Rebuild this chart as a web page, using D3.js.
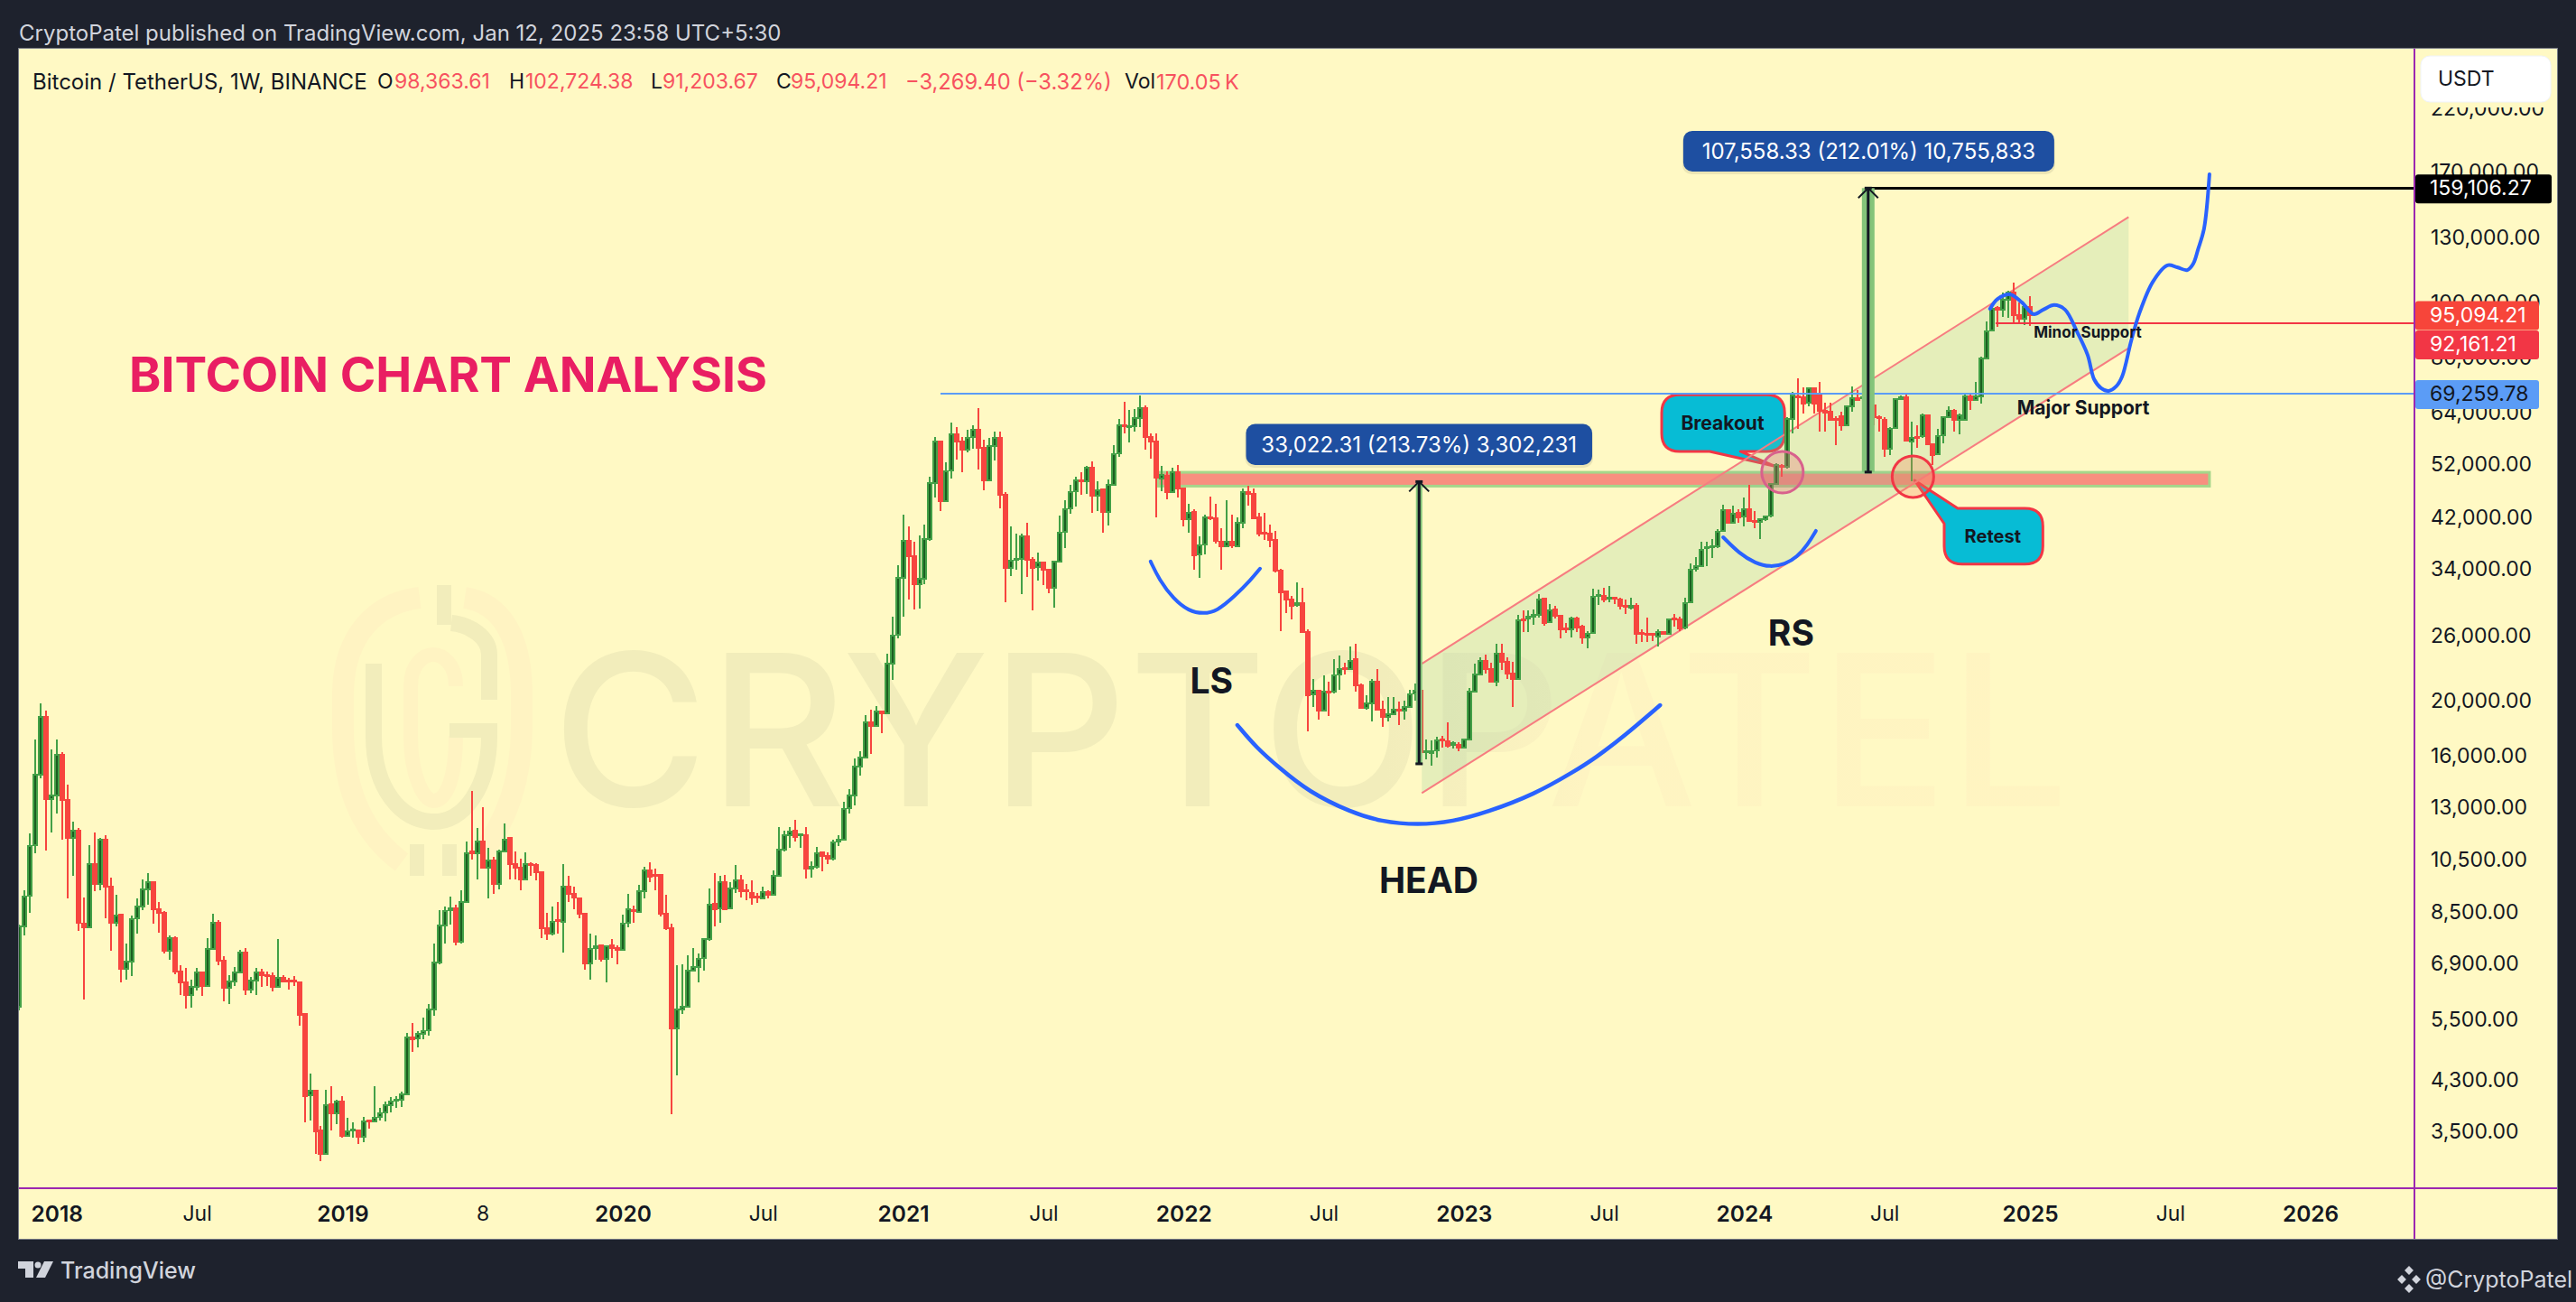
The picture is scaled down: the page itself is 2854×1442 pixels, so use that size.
<!DOCTYPE html>
<html>
<head>
<meta charset="utf-8">
<title>Bitcoin chart analysis</title>
<script src="https://cdn.jsdelivr.net/npm/d3@7"></script>
<style>
  html, body { margin: 0; padding: 0; background: #1e222d; }
  svg { display: block; }
  text { font-family: Inter, "Noto Sans", sans-serif; }
  .domain { display: none; }
</style>
</head>
<body>
<svg id="chart" width="2854" height="1442"></svg>
<script>
// weekly candles, index 7 is the first week of 2018, index 373 is Jan 6 2025
const opens = [
  5790,8000,9060,11120,14820,18700,13400,13620,16060,13350,
  11460,11800,8100,7990,10300,9510,11400,9430,8130,8400,
  6740,6950,8290,8700,9320,9570,8600,8460,7270,7640,
  6680,6380,6080,6280,6640,6290,7320,8130,6970,6240,
  6420,6640,7220,6200,6440,6640,6590,6550,6280,6510,
  6440,6440,6380,5620,4040,4120,3510,3190,3900,3760,
  3950,3435,3505,3510,3425,3650,3640,3700,3770,3890,
  3965,3980,4060,5120,5090,5190,5260,5730,6930,8050,
  8570,8630,7540,8850,10840,10790,11300,10170,10460,9530,
  10870,11460,10300,10150,9700,10300,10280,9990,7970,7770,
  8210,8160,9420,9130,8990,8450,6900,7330,7410,7020,
  7410,7330,7300,8130,8560,8500,9230,10070,9880,9860,
  8430,7960,5300,5720,5790,6710,6810,7060,7610,8780,
  8620,9600,8620,9350,9660,9260,9170,9030,8990,9210,
  9100,9850,10930,11600,11800,11610,11600,10120,10200,10810,
  10650,10530,11280,11370,12930,13620,15290,15860,18300,18010,
  19120,18980,23250,26050,32870,38200,35800,32000,32700,38500,
  48200,57100,44800,50700,58800,57000,55200,58000,59800,55700,
  48800,56100,57800,46000,34200,35400,35500,38800,35300,34300,
  35000,33900,31500,35100,39600,43500,46600,48800,48600,51400,
  45800,47000,42900,47900,54300,61000,60600,60800,62800,65200,
  58200,57000,49100,49700,46500,50400,47100,41700,42900,36100,
  37600,42000,41800,38000,37400,38000,37400,41000,46500,46200,
  41900,39400,39300,38300,33800,31100,30100,29400,29700,26400,
  20500,20800,19200,20750,20700,22200,22800,22700,23600,21300,
  19400,19800,21600,19300,18700,18950,19300,19200,19500,20600,
  20800,16200,16150,16350,17050,16950,16700,16700,16550,17050,
  20750,22250,23500,22700,21600,24200,23400,22300,21800,27800,
  27900,28100,28300,30150,27450,28900,28200,26750,26700,27850,
  26950,25850,26250,30500,30500,30300,30350,30050,29350,29150,
  29350,26250,26200,26150,25900,26400,26200,27900,27800,26900,
  29800,34100,34500,37000,37300,37350,39700,43200,41100,42700,
  42100,43400,41400,41250,41600,42200,48000,51700,51500,62500,
  68500,68300,66700,70700,68800,64600,64400,62500,63300,61000,
  65900,68100,67900,69300,66000,63000,62300,55400,60200,67800,
  68200,57100,58200,58400,63400,56500,54200,58500,63000,64700,
  62300,62300,68600,67600,68400,79700,89300,97900,97200,101100,
  104400,95200,93700,98363.61
];
const highs = [
  8080,9270,11690,17100,19780,19200,16400,17100,16250,14250,
  12230,11930,9000,11130,11700,11470,11600,9780,9100,8420,
  7480,8360,8970,9700,9950,9630,8830,8540,7730,7700,
  6860,6780,6460,6770,6650,7650,8420,8220,7110,6580,
  6810,7290,7330,6530,6770,6740,6670,6640,7620,6580,
  6510,6550,6420,5620,4420,4130,3570,4130,4190,3980,
  4030,3690,3620,3510,3700,3667,4190,3850,3945,4020,
  4030,4100,5210,5420,5250,5540,5850,7480,8570,8700,
  9040,8740,9270,11300,13880,11950,13000,11000,10610,10950,
  12170,11520,10860,10540,10820,10400,10350,10000,8460,8680,
  8850,10300,9830,9400,9010,8470,7780,7720,7440,7430,
  7620,7420,8400,9130,8710,9490,10200,10400,10140,9900,
  9100,8090,6850,6870,7120,7350,7180,7640,9330,9960,
  9850,9860,9600,10280,9880,9500,9670,9170,9400,9260,
  10060,12000,11800,11990,12350,11690,11990,10440,11040,10870,
  10810,11370,11600,13270,13980,15790,16300,18850,19300,19550,
  19200,24200,28100,34600,42500,40500,38000,39000,40700,49400,
  58200,57300,52400,61700,60500,58200,59800,61000,65400,57400,
  57900,59300,59300,46500,40500,39300,39300,41000,35700,36400,
  35100,34000,35200,42300,45000,47800,49400,50400,51700,52700,
  48500,47200,49000,56200,62600,67000,64800,65100,68800,66000,
  59000,58900,51700,50500,51400,51900,47400,44300,43400,38800,
  42500,45700,44400,40100,45000,42400,42000,47100,47700,47100,
  42700,42700,40700,39700,34100,31100,30500,32200,31500,26700,
  21800,20900,22100,21600,23600,24000,23300,24900,25200,21400,
  20400,21800,22700,20000,20300,20300,19900,20000,20900,21400,
  20900,17100,17000,17250,17350,18300,16950,16900,17150,21000,
  23250,23800,24100,23300,25200,25200,23800,23400,28300,28800,
  28800,28900,30800,30300,29500,29300,28300,27400,28100,28100,
  27200,26450,31400,31300,31600,31800,30350,30350,30050,30300,
  29700,26700,28000,26300,26700,26400,27900,28400,28050,30300,
  34800,35700,38000,38000,38400,40000,44100,43300,44000,43400,
  45400,47900,43000,41800,42300,48000,52200,52100,63000,69800,
  73800,71000,71000,70900,72700,66800,66800,63300,64400,66000,
  71400,70200,71700,73000,66200,63500,62900,60400,68100,68700,
  69600,61900,60900,63800,63600,56600,60000,63300,65800,65000,
  63800,69000,69000,72500,80400,92800,99600,98700,104088,105000,
  108353,99963,99000,102724.38
];
const lows = [
  5700,7740,8480,10760,14600,10900,11700,12670,11370,8990,
  9850,7880,5970,7990,9250,9270,8280,7270,8020,6400,
  6460,6550,7770,8570,8740,8110,7820,7170,7000,6595,
  6080,5755,5770,6180,6040,6290,7320,6850,5920,5860,
  6300,6640,6080,6110,6080,6280,6300,6160,6260,6400,
  6210,6300,5370,3630,3650,3190,3100,3190,3510,3600,
  3410,3425,3410,3320,3350,3540,3630,3650,3640,3770,
  3850,3860,4050,4830,4920,5080,5150,5580,6880,7480,
  8080,7430,7480,8850,10510,9680,10170,8990,9130,9320,
  10840,9700,9700,9260,9690,9820,9660,7650,7590,7720,
  7770,7220,8850,8600,8290,6730,6460,7000,6950,6400,
  7040,6880,7270,7980,8130,8470,8990,9580,9260,8330,
  7900,3750,4390,5630,5790,6670,6400,6700,7560,8020,
  8120,8600,8580,9190,9010,8910,8760,8800,8980,8960,
  9070,9850,10850,11000,11290,11030,9740,9750,10120,10010,
  10300,10460,11080,11330,12650,13070,14750,15860,16100,17950,
  17500,18890,21700,25760,28100,30100,28900,29000,32000,38100,
  45400,43100,44800,49100,53000,50300,54600,55500,50900,46800,
  48800,52800,43500,29800,33100,33900,30800,33000,28800,32500,
  31900,30900,29100,35100,37100,42600,43800,46000,46100,42700,
  43100,39400,40600,47900,53600,59000,56800,59300,60500,55200,
  53200,41900,46600,45100,46400,45400,40400,39500,33900,32800,
  36100,41500,37700,34000,37300,37100,37300,40100,44000,41700,
  38900,38300,37200,33600,26500,28500,27800,29200,26300,17650,
  19500,18500,19100,18800,20600,20900,22200,22700,20700,19400,
  19300,18400,19200,18000,18400,18900,18100,18500,19400,20000,
  15450,15750,15350,15900,16500,16500,16450,16300,16550,17000,
  20700,22100,22300,21500,21200,22600,21800,19500,21700,26400,
  26400,27200,28000,27100,27400,27900,25700,26300,25800,26400,
  25200,24700,26150,29450,29750,29800,29500,28900,28400,28900,
  25200,25300,25350,25400,24900,26150,26100,27000,26500,26700,
  29700,33700,34500,34500,35600,37000,39600,41000,41000,41000,
  40500,41200,40100,38500,41400,42000,47800,49500,51200,59000,
  60000,63900,65900,63900,59400,59400,62000,56200,59700,60700,
  64400,67200,66500,64400,61000,59400,53700,54000,60100,67400,
  57000,48600,55700,57800,56300,51900,54000,56700,62700,59400,
  58700,62200,64800,67400,66500,79500,89000,90800,94500,94150,
  92175,92500,91500,91203.67
];
const closes = [
  8000,9040,11080,14820,18700,13400,13600,16020,13350,11460,
  11800,8130,7990,10300,9510,11400,9430,8130,8380,6740,
  6950,8260,8700,9320,9570,8600,8460,7270,7640,6680,
  6380,6080,6280,6640,6290,7320,8130,6970,6240,6420,
  6640,7220,6200,6440,6640,6580,6550,6280,6510,6420,
  6420,6420,5610,4030,4115,3500,3190,3890,3760,3950,
  3435,3490,3520,3425,3640,3640,3690,3760,3880,3940,
  3980,4060,5110,5080,5180,5250,5720,6920,8050,8540,
  8620,7540,8850,10790,10780,11300,10170,10460,9530,10840,
  11400,10300,10150,9700,10300,10280,9990,7970,7770,8160,
  8190,9400,9130,9000,8450,6900,7320,7400,7020,7400,
  7330,7300,8100,8590,8540,9230,10070,9800,9850,8430,
  7950,5300,5720,5790,6700,6810,7020,7610,8760,8600,
  9580,8600,9340,9660,9250,9250,9000,9010,9210,9100,
  9850,10930,11580,11770,11520,11620,10120,10200,10790,10650,
  10530,11240,11370,12900,13620,15290,15860,18300,18030,19160,
  19000,23200,26000,32800,38100,35800,32000,32700,38500,48200,
  57000,44800,50600,58800,57000,55200,57800,59800,55700,48800,
  56000,57800,46000,34200,35200,35500,38800,35300,34200,34900,
  34000,31500,35100,39500,43400,46500,48800,48700,51400,45800,
  46900,42900,47800,54200,60900,60600,60700,62800,65200,58200,
  57000,49200,49800,46500,50300,47100,41700,42800,36000,37500,
  42000,41800,38100,37400,38000,37500,41000,46500,46200,41800,
  39300,39300,38300,33800,31000,30100,29300,29700,26400,20400,
  20800,19200,20700,20700,22100,22700,22700,23500,21300,19400,
  19800,21600,19300,18700,18900,19300,19200,19500,20500,20800,
  16200,16300,16300,17000,17000,16650,16800,16500,17050,20700,
  22200,23500,22700,21600,24200,23400,22300,21800,27700,27750,
  28050,28300,30100,27400,28800,28200,26700,26700,27900,26900,
  25800,26200,30400,30600,30100,30310,30300,29300,29200,29300,
  26200,26200,26150,26100,26400,26200,27800,27850,26800,29700,
  34000,34400,36800,37200,37350,39600,43200,41100,42600,42000,
  43300,41300,41250,41600,42100,48000,51800,51500,62500,68700,
  68200,66500,70700,66600,64600,64200,62300,62300,61000,65800,
  68100,67600,68200,66000,63000,62800,55400,60100,67700,68300,
  57300,57800,58100,63400,56500,54000,58400,62900,64700,62300,
  63400,68600,67500,68400,79700,89200,97500,97200,101100,104400,
  95200,93700,98360,95094.21
];

const priceTicks = [220000, 170000, 130000, 100000, 80000, 64000, 52000, 42000, 34000,
  26000, 20000, 16000, 13000, 10500, 8500, 6900, 5500, 4300, 3500];
const timeTickBars = [7, 33, 60, 86, 112, 138, 164, 190, 216, 242, 268, 294, 320, 346, 373, 399, 425];
const timeTickLabels = ['2018', 'Jul', '2019', '8', '2020', 'Jul', '2021', 'Jul', '2022', 'Jul',
  '2023', 'Jul', '2024', 'Jul', '2025', 'Jul', '2026'];

// drawings, all [bar index, price]
const lsCurve = [[209.9,35100],[211.5,32600],[214.1,30200],[217,28700],[219.7,28400],[222.2,28700],[225.5,30500],[228.5,32600],[230.2,34100]];
const headCurve = [[226,18100],[229.5,16530],[233.7,15250],[239.2,13820],[247.1,12710],[252.6,12250],[259.5,12070],[266,12250],[272.2,12710],[281.1,13670],[288.6,15030],[292.3,15820],[297.8,17330],[304.4,19620]];
const rsCurve = [[316.1,38720],[319.1,36250],[322.1,34840],[324.8,34310],[327.6,34720],[329.8,35730],[331.8,37600],[333.3,39730]];
const projection = [[365.6,97600],[367,101600],[369.3,103500],[371.5,100200],[373.7,95500],[375.5,97300],[377.5,99100],[379.5,97300],[381.7,89100],[383.7,81000],[384.9,73400],[386.2,70800],[387.6,70000],[389,71300],[390.1,74200],[391.8,85900],[393.3,95900],[395.8,108900],[398.5,116400],[400.3,115500],[402.2,114200],[403.3,117200],[404.2,124300],[405.3,135100],[406.3,168300]];
const channel = [[260.2,23200],[391.3,141500],[391.3,83200],[260.2,13750]];
const supportZone = { bars: [211.3, 406.3], prices: [50360, 47620] };
const measures = [
  { bar: 259.7, from: 15476, to: 48498, band: 7, label: '33,022.31 (213.73%) 3,302,231', box: [[227.6, 61230], [291.8, 51880]] },
  { bar: 343, from: 50400, to: 159106.27, band: 14, label: '107,558.33 (212.01%) 10,755,833', box: [[308.7, 200600], [377.5, 170100]] }
];
const levels = [
  { price: 159106.27, start: 343, color: '#000000', width: 3, text: '#ffffff', tag: '#000000', right: 2827 },
  { price: 95094.21, start: null, color: null, width: 0, text: '#ffffff', tag: '#f7453a', right: 2813 },
  { price: 92161.21, start: 366.6, color: '#f23645', width: 2, text: '#ffffff', tag: '#f23645', right: 2813 },
  { price: 69259.78, start: 171, color: '#5b9cf6', width: 2, text: '#131722', tag: '#5b9cf6', right: 2813 }
];
const legendParts = [
  ['Bitcoin / TetherUS, 1W, BINANCE', 36, '#131722', 24], ['O', 418, '#131722', 23], ['98,363.61', 437, '#f7525f', 23],
  ['H', 564, '#131722', 23], ['102,724.38', 582, '#f7525f', 23], ['L', 721, '#131722', 23], ['91,203.67', 734, '#f7525f', 23],
  ['C', 860, '#131722', 23], ['95,094.21', 876, '#f7525f', 23], ['\u22123,269.40 (\u22123.32%)', 1003, '#f7525f', 23.7],
  ['Vol', 1246, '#131722', 23], ['170.05\u2009K', 1281, '#f7525f', 23.4]
];

const plot = { left: 21, right: 2833, top: 54, bottom: 1372, axisX: 2675, axisY: 1316 };
const GREEN = '#43a047', GREEN_DARK = '#1b5e20', RED = '#f7453f', CURVE = '#2962ff';

const svg = d3.select('#chart');
const x = d3.scaleLinear().domain([0, 373]).range([21, 2249]);
const y = d3.scaleLog().domain([3500, 170000]).range([1252.7, 190.2]);
const pt = ([b, p]) => [x(b), y(p)];

svg.append('rect').attr('x', plot.left - 1).attr('y', plot.top - 1)
  .attr('width', plot.right - plot.left + 2).attr('height', plot.bottom - plot.top + 2)
  .attr('fill', '#787b86');
svg.append('rect').attr('x', plot.left).attr('y', plot.top)
  .attr('width', plot.right - plot.left).attr('height', plot.bottom - plot.top)
  .attr('fill', '#fff9c4');

const defs = svg.append('defs');
defs.append('clipPath').attr('id', 'pane').append('rect')
  .attr('x', plot.left).attr('y', plot.top)
  .attr('width', plot.axisX - plot.left).attr('height', plot.axisY - plot.top);
const wmGrad = defs.append('linearGradient').attr('id', 'wm')
  .attr('gradientUnits', 'userSpaceOnUse').attr('x1', 600).attr('x2', 2300).attr('y1', 0).attr('y2', 0);
wmGrad.append('stop').attr('offset', 0).attr('stop-color', '#f2edbb');
wmGrad.append('stop').attr('offset', 0.55).attr('stop-color', '#f2edbb');
wmGrad.append('stop').attr('offset', 0.68).attr('stop-color', '#fef4c2');
wmGrad.append('stop').attr('offset', 1).attr('stop-color', '#fff4c1');

// watermark
const wm = svg.append('g');
wm.append('text').attr('x', 612).attr('y', 893).attr('font-size', 234).attr('font-weight', 500)
  .attr('textLength', 1680).attr('lengthAdjust', 'spacing').attr('fill', 'url(#wm)').text('CRYPTOPATEL');
const logoStroke = (d, w, c) => wm.append('path').attr('d', d).attr('fill', 'none').attr('stroke', c).attr('stroke-width', w);
logoStroke('M465,662 C415,668 380,705 380,770 V805 C380,880 405,925 445,955 M515,662 C555,668 578,705 578,770 V805 C578,860 562,910 530,950', 24, '#fff3c2');
logoStroke('M414,735 V815 C414,875 445,908 478,910 C515,912 542,870 542,815 M542,775 V725 C542,705 520,692 500,690', 18, '#f2edbb');
logoStroke('M455,760 V815 C455,860 470,887 480,887 C495,887 505,860 505,815 M505,760 C505,735 490,725 480,725 C470,725 455,735 455,760', 16, '#fff3c2');
logoStroke('M498,809 H551 M462,935 V970 M498,935 V970 M492,648 V692', 16, '#f2edbb');

const pane = svg.append('g').attr('clip-path', 'url(#pane)');

// support zone
pane.append('rect')
  .attr('x', x(supportZone.bars[0])).attr('width', x(supportZone.bars[1]) - x(supportZone.bars[0]))
  .attr('y', y(supportZone.prices[0])).attr('height', y(supportZone.prices[1]) - y(supportZone.prices[0]))
  .attr('fill', 'rgba(242,54,69,0.54)').attr('stroke', '#a5d68a').attr('stroke-width', 3);

// callouts sit below the channel
const calloutPath = (x0, y0, x1, y1, r, tail) => {
  const p = d3.path();
  if (tail.side === 'bottom') {
    p.moveTo(x0 + r, y0);
    p.lineTo(x1 - r, y0); p.quadraticCurveTo(x1, y0, x1, y0 + r);
    p.lineTo(x1, y1 - r); p.quadraticCurveTo(x1, y1, x1 - r, y1);
    p.lineTo(tail.b[0], y1); p.lineTo(tail.tip[0], tail.tip[1]); p.lineTo(tail.a[0], y1);
    p.lineTo(x0 + r, y1); p.quadraticCurveTo(x0, y1, x0, y1 - r);
    p.lineTo(x0, y0 + r); p.quadraticCurveTo(x0, y0, x0 + r, y0);
  } else {
    p.moveTo(tail.b[0], y0);
    p.lineTo(x1 - r, y0); p.quadraticCurveTo(x1, y0, x1, y0 + r);
    p.lineTo(x1, y1 - r); p.quadraticCurveTo(x1, y1, x1 - r, y1);
    p.lineTo(x0 + r, y1); p.quadraticCurveTo(x0, y1, x0, y1 - r);
    p.lineTo(x0, tail.a[1]); p.lineTo(tail.tip[0], tail.tip[1]); p.lineTo(tail.b[0], y0);
  }
  p.closePath();
  return p.toString();
};
const callouts = [
  { box: [[304.7, 68930], [327.5, 54800]], side: 'bottom',
    a: [313.6, 54800], b: [319.3, 54800], tip: [325.5, 51690] },
  { box: [[357.1, 43510], [375.4, 34720]], side: 'left',
    a: [357.1, 40900], b: [359.6, 43510], tip: [351.6, 48750] }
];
callouts.forEach(c => {
  const [x0, y0] = pt(c.box[0]), [x1, y1] = pt(c.box[1]);
  pane.append('path')
    .attr('d', calloutPath(x0, y0, x1, y1, 20, { side: c.side, a: pt(c.a), b: pt(c.b), tip: pt(c.tip) }))
    .attr('fill', '#07bcd5').attr('stroke', '#f23645').attr('stroke-width', 3).attr('stroke-linejoin', 'round');
});

// channel
pane.append('path').attr('d', d3.line()(channel.map(pt)) + 'Z').attr('fill', 'rgba(125,194,151,0.2)');
[[channel[0], channel[1]], [channel[3], channel[2]]].forEach(seg => {
  pane.append('path').attr('d', d3.line()(seg.map(pt))).attr('stroke', '#f77c80').attr('stroke-width', 2).attr('fill', 'none');
});

// candles
const candles = d3.range(opens.length).map(i => ({ i, o: opens[i], h: highs[i], l: lows[i], c: closes[i] }));
const bar = pane.append('g').attr('shape-rendering', 'crispEdges')
  .selectAll('g').data(candles).join('g')
  .attr('transform', d => `translate(${Math.round(x(d.i))},0)`);
bar.append('line')
  .attr('y1', d => y(d.h)).attr('y2', d => y(d.l))
  .attr('stroke', d => d.c >= d.o ? GREEN : RED).attr('stroke-width', 2);
bar.append('rect')
  .attr('x', -2).attr('width', 4)
  .attr('y', d => Math.min(y(d.o), y(d.c)))
  .attr('height', d => Math.max(1, Math.abs(y(d.o) - y(d.c))))
  .attr('fill', d => d.c >= d.o ? GREEN_DARK : RED)
  .attr('stroke', d => d.c >= d.o ? GREEN : RED).attr('stroke-width', 2);

// level lines, snapped so they stay one solid colour
levels.filter(l => l.color).forEach(l => {
  const ly = Math.round(y(l.price));
  pane.append('line').attr('x1', x(l.start)).attr('x2', plot.axisX)
    .attr('y1', ly).attr('y2', ly).attr('shape-rendering', 'crispEdges')
    .attr('stroke', l.color).attr('stroke-width', l.width);
});

// measure tools
measures.forEach(m => {
  const mx = x(m.bar), top = y(m.to), bottom = y(m.from);
  pane.append('rect').attr('x', mx - m.band / 2).attr('width', m.band)
    .attr('y', top).attr('height', bottom - top).attr('fill', '#84c47a');
  pane.append('line').attr('x1', mx).attr('x2', mx).attr('y1', top).attr('y2', bottom)
    .attr('stroke', '#131722').attr('stroke-width', 3);
  pane.append('path').attr('d', `M${mx - 11},${top + 11}L${mx},${top}L${mx + 11},${top + 11}`)
    .attr('fill', 'none').attr('stroke', '#131722').attr('stroke-width', 2);
  [top, bottom].forEach(v => pane.append('line').attr('x1', mx - 4).attr('x2', mx + 4)
    .attr('y1', v).attr('y2', v).attr('stroke', '#131722').attr('stroke-width', 3));
  const [bx0, by0] = pt(m.box[0]), [bx1, by1] = pt(m.box[1]);
  pane.append('rect').attr('x', bx0 - 1).attr('y', by0 + 3).attr('width', bx1 - bx0 + 2).attr('height', by1 - by0)
    .attr('rx', 10).attr('fill', 'rgba(0,0,0,0.08)');
  pane.append('rect').attr('x', bx0).attr('y', by0).attr('width', bx1 - bx0).attr('height', by1 - by0)
    .attr('rx', 10).attr('fill', '#1e4fa1');
  pane.append('text').attr('x', (bx0 + bx1) / 2).attr('y', (by0 + by1) / 2)
    .attr('text-anchor', 'middle').attr('dominant-baseline', 'central')
    .attr('font-size', 24).attr('fill', '#ffffff').text(m.label);
});

// hand drawn curves
const smooth = d3.line().x(d => x(d[0])).y(d => y(d[1])).curve(d3.curveBasis);
const rough = d3.line().x(d => x(d[0])).y(d => y(d[1])).curve(d3.curveCatmullRom.alpha(0.5));
[[lsCurve, smooth, 4], [headCurve, smooth, 4.5], [rsCurve, smooth, 4], [projection, rough, 4]].forEach(([c, gen, w]) => {
  pane.append('path').attr('d', gen(c)).attr('fill', 'none')
    .attr('stroke', CURVE).attr('stroke-width', w).attr('stroke-linecap', 'round');
});

// circles
pane.append('circle').attr('cx', x(327.1)).attr('cy', y(50390)).attr('r', 23)
  .attr('fill', 'rgba(233,110,120,0.3)').attr('stroke', '#d8618c').attr('stroke-width', 3);
pane.append('circle').attr('cx', x(351.3)).attr('cy', y(49480)).attr('r', 23)
  .attr('fill', 'rgba(244,130,90,0.28)').attr('stroke', '#f23645').attr('stroke-width', 3);

// text on the chart
const chartText = [
  ['LS', 221.2, 21660, 39, 700], ['RS', 328.7, 26290, 39, 700], ['HEAD', 261.5, 9660, 39, 700],
  ['Minor Support', 383.7, 88700, 17, 700], ['Major Support', 382.9, 65500, 21, 700],
  ['Breakout', 316, 61500, 21, 700], ['Retest', 366.1, 38850, 20, 700]
];
chartText.forEach(([t, b, p, size, weight]) => {
  pane.append('text').attr('x', x(b)).attr('y', y(p)).attr('text-anchor', 'middle')
    .attr('dominant-baseline', 'central').attr('font-size', size).attr('font-weight', weight)
    .attr('fill', '#131722').text(t);
});
svg.append('text').attr('x', 143).attr('y', 434).attr('font-size', 53.5).attr('font-weight', 700)
  .attr('fill', '#e91e63').text('BITCOIN CHART ANALYSIS');

// axes
const yAxis = svg.append('g').attr('transform', `translate(${plot.axisX},0)`)
  .call(d3.axisRight(y).tickValues(priceTicks).tickFormat(d3.format(',.2f')).tickSize(0).tickPadding(18));
yAxis.selectAll('text').attr('font-size', 23).attr('fill', '#131722')
  .style('font-family', 'Inter, sans-serif');
const xAxis = svg.append('g').attr('transform', `translate(0,${plot.axisY})`)
  .call(d3.axisBottom(x).tickValues(timeTickBars).tickFormat((d, i) => timeTickLabels[i]).tickSize(0).tickPadding(20));
xAxis.selectAll('text').attr('fill', '#131722').style('font-family', 'Inter, sans-serif')
  .attr('font-size', (d, i) => /^\d{4}$/.test(timeTickLabels[i]) ? 24.5 : 23)
  .attr('font-weight', (d, i) => /^\d{4}$/.test(timeTickLabels[i]) ? 600 : 400);

svg.append('line').attr('x1', plot.axisX).attr('x2', plot.axisX).attr('y1', plot.top).attr('y2', plot.bottom)
  .attr('stroke', '#9c27b0').attr('stroke-width', 2);
svg.append('line').attr('x1', plot.left).attr('x2', plot.right).attr('y1', plot.axisY).attr('y2', plot.axisY)
  .attr('stroke', '#9c27b0').attr('stroke-width', 2);

// currency box, its margin cuts into the top tick label
svg.append('rect').attr('x', 2677).attr('y', 56).attr('width', 154).attr('height', 63).attr('fill', '#fff9c4');
svg.append('rect').attr('x', 2682).attr('y', 62).attr('width', 144).attr('height', 51).attr('rx', 10)
  .attr('fill', '#ffffff').attr('stroke', '#f0f3fa');
svg.append('text').attr('x', 2701).attr('y', 87).attr('dominant-baseline', 'central')
  .attr('font-size', 23).attr('fill', '#131722').text('USDT');

// price tags
levels.forEach((l, idx) => {
  const tagY = idx === 1 ? 349.5 : idx === 2 ? 382 : y(l.price) + 1;
  svg.append('rect').attr('x', plot.axisX + 1).attr('y', tagY - 16).attr('width', l.right - plot.axisX - 1)
    .attr('height', 32).attr('rx', 3).attr('fill', l.tag);
  svg.append('text').attr('x', 2692).attr('y', tagY - 1).attr('dominant-baseline', 'central')
    .attr('font-size', 23).attr('fill', l.text).text(d3.format(',.2f')(l.price));
});

// header and legend
svg.append('text').attr('x', 21).attr('y', 36).attr('dominant-baseline', 'central')
  .attr('font-size', 24).attr('fill', '#d1d4dc')
  .text('CryptoPatel published on TradingView.com, Jan 12, 2025 23:58 UTC+5:30');
legendParts.forEach(([t, px, c, size]) => {
  svg.append('text').attr('x', px).attr('y', 90).attr('dominant-baseline', 'central')
    .attr('font-size', size).attr('fill', c).text(t);
});

// footer
const tv = svg.append('g').attr('fill', '#d1d4dc');
tv.append('path').attr('d', 'M20,1397 H37 V1415 H28 V1405 H20 Z M49,1397 H59 L50,1415 H40 Z');
tv.append('circle').attr('cx', 42).attr('cy', 1401).attr('r', 3.5);
tv.append('text').attr('x', 67).attr('y', 1407).attr('dominant-baseline', 'central')
  .attr('font-size', 25).attr('font-weight', 500).text('TradingView');
const diamond = svg.append('g').attr('fill', '#d1d4dc').attr('transform', 'translate(2669,1417)');
[[0, -10], [-8, 0], [8, 0], [0, 10]].forEach(([dx, dy]) => diamond.append('rect')
  .attr('x', dx - 3.5).attr('y', dy - 3.5).attr('width', 7).attr('height', 7).attr('transform', `rotate(45 ${dx} ${dy})`));
svg.append('text').attr('x', 2687).attr('y', 1417).attr('dominant-baseline', 'central')
  .attr('font-size', 25).attr('fill', '#d1d4dc').text('@CryptoPatel');
</script>
</body>
</html>
